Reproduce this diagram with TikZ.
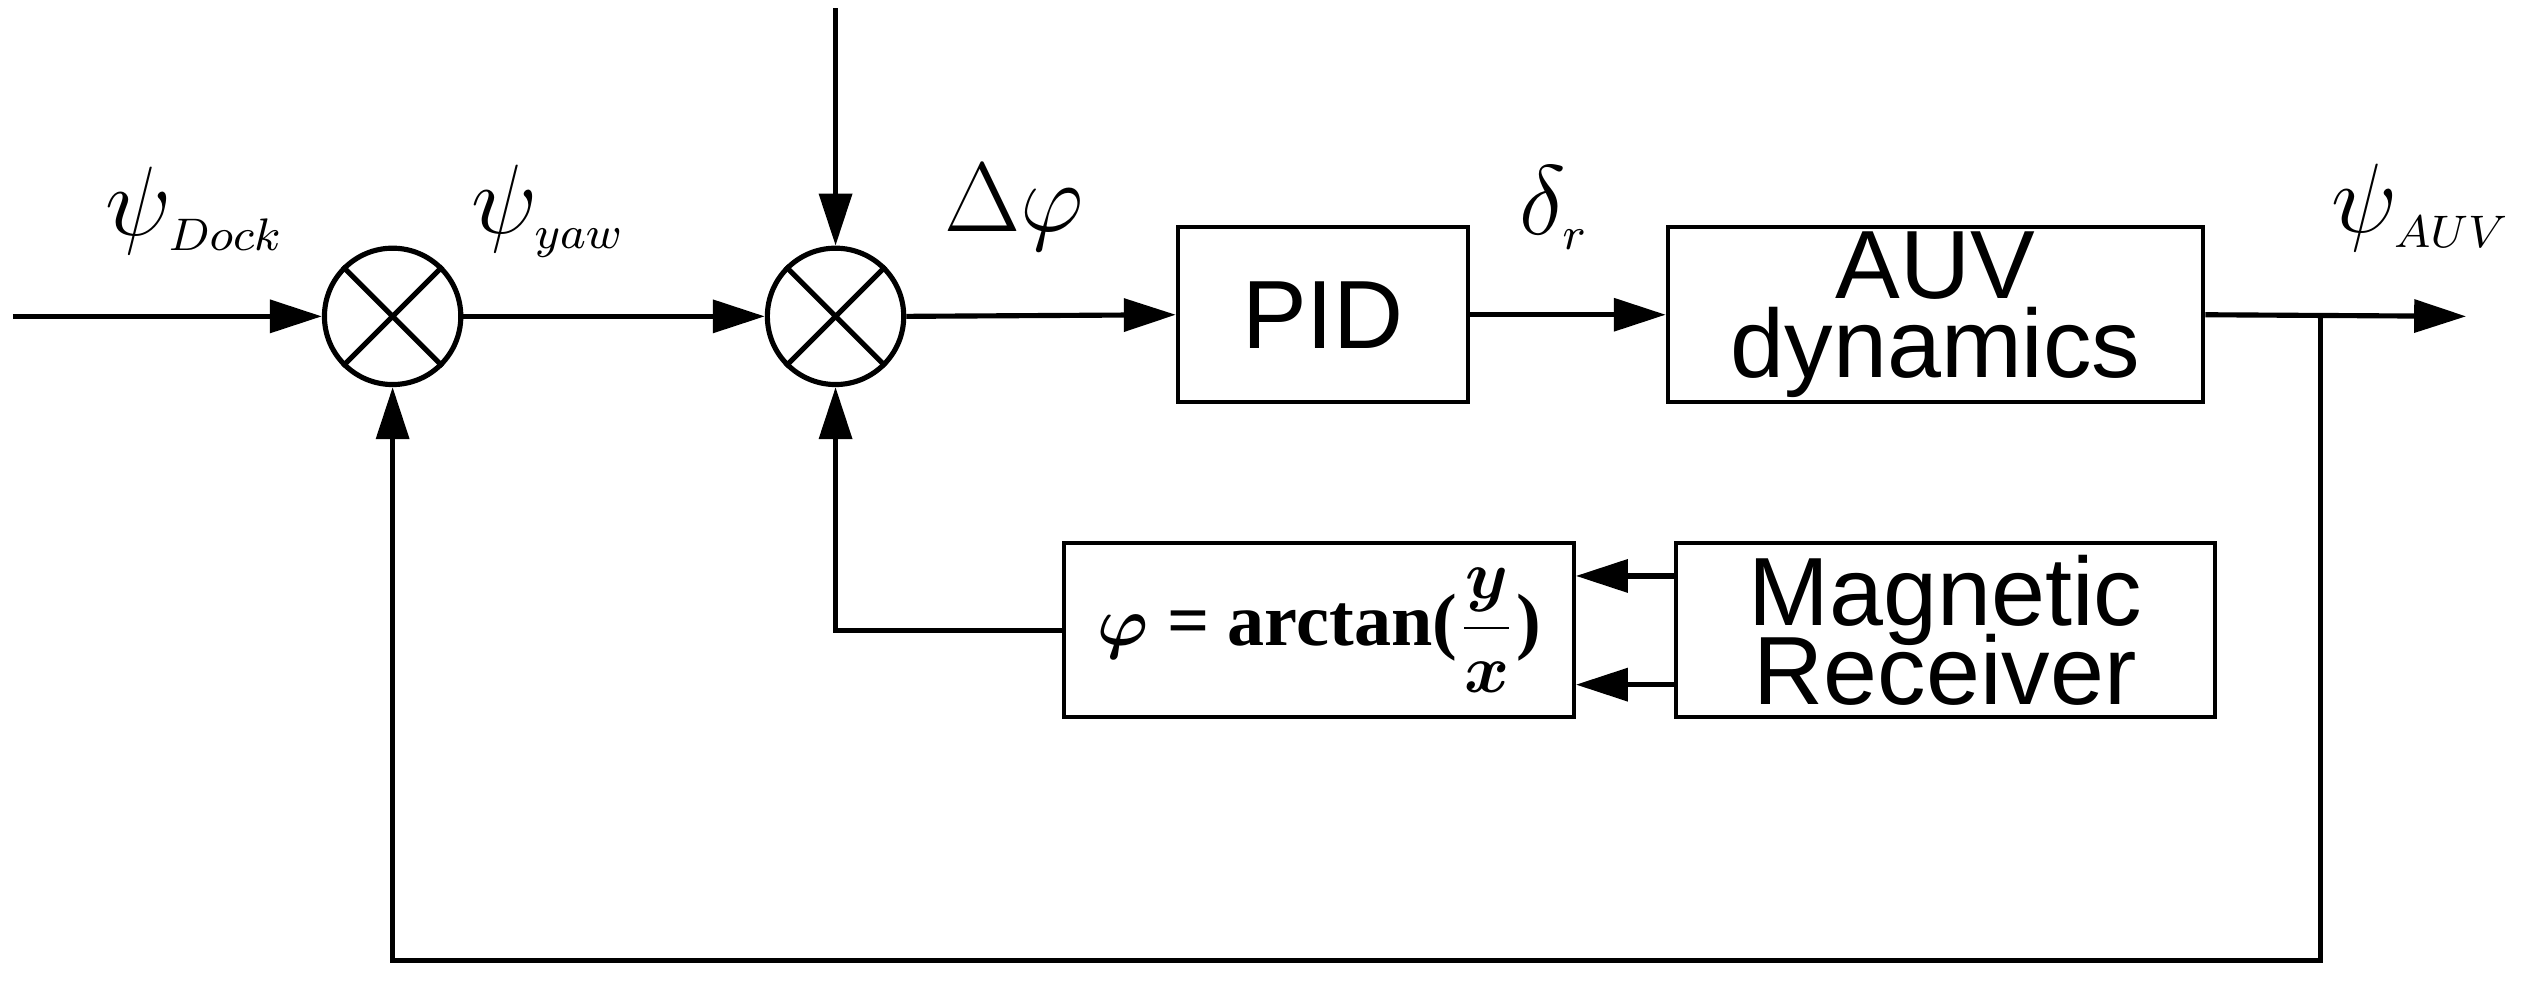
\documentclass[tikz,border=0pt]{standalone}
\usepackage{amsmath,bm}
\usepackage{fontspec}
\setmainfont{Liberation Serif}
\newfontfamily\boxfont{Liberation Sans}
\usetikzlibrary{arrows.meta}
\begin{document}
\begin{tikzpicture}[x=0.01cm,y=-0.01cm,line width=0.9pt,
  arr/.style={-{Triangle[length=0.32cm,width=0.2cm]}},
  blk/.style={draw,line width=0.7pt,inner sep=0pt,font=\boxfont\fontsize{17}{17}\selectfont,align=center},
  sum/.style={draw,circle,minimum size=0.84cm,inner sep=0pt,line width=0.9pt},
  lab/.style={font=\fontsize{17}{18}\selectfont}]
\useasboundingbox (0,0) rectangle (1568,607);
\node[sum] (s1) at (242,195) {};
\draw (s1.north west)--(s1.south east) (s1.north east)--(s1.south west);
\node[sum] (s2) at (515,195) {};
\draw (s2.north west)--(s2.south east) (s2.north east)--(s2.south west);
\node[blk,minimum width=1.79cm,minimum height=1.08cm] (pid) at (815.5,194) {PID};
\node[blk,minimum width=3.30cm,minimum height=1.08cm] (auv) at (1193,194) {AUV\\[-3pt]dynamics};
\node[blk,minimum width=3.14cm,minimum height=1.07cm,font=\fontsize{13}{14}\selectfont\bfseries] (atan) at (813,388.5) {$\bm{\varphi}$ = arctan($\dfrac{\bm{y}}{\bm{x}}$)};
\node[blk,minimum width=3.32cm,minimum height=1.07cm] (mag) at (1199,388.5) {Magnetic\\[-3pt]Receiver};
\coordinate (in) at (8,195);
\coordinate (top) at (515,5);
\coordinate (out) at (1520,195);
\coordinate (br) at (1430,195);
\coordinate (bl) at (1430,592);
\coordinate (bb) at (242,592);
\coordinate (fl) at (515,388.5);
\draw[arr] (in)--(s1.west);
\draw[arr] (s1.east)--(s2.west);
\draw[arr] (top)--(s2.north);
\draw[arr] (s2.east)--(pid.west);
\draw[arr] (pid.east)--(auv.west);
\draw[arr] (auv.east)--(out);
\draw[arr] (br)--(bl)--(bb)--(s1.south);
\draw[arr] (atan.west)--(fl)--(s2.south);
\draw[arr] (mag.west|-0,355)--(atan.east|-0,355);
\draw[arr] (mag.west|-0,422)--(atan.east|-0,422);
\node[lab] (l1) at (120,130) {$\psi_{\scriptscriptstyle Dock}$};
\node[lab] (l2) at (338,130) {$\psi_{\scriptscriptstyle yaw}$};
\node[lab] (l3) at (625,128) {$\Delta\varphi$};
\node[lab] (l4) at (958,128) {$\delta_{\scriptscriptstyle r}$};
\node[lab] (l5) at (1492,128) {$\psi_{\scriptscriptstyle AUV}$};
\end{tikzpicture}
\end{document}
